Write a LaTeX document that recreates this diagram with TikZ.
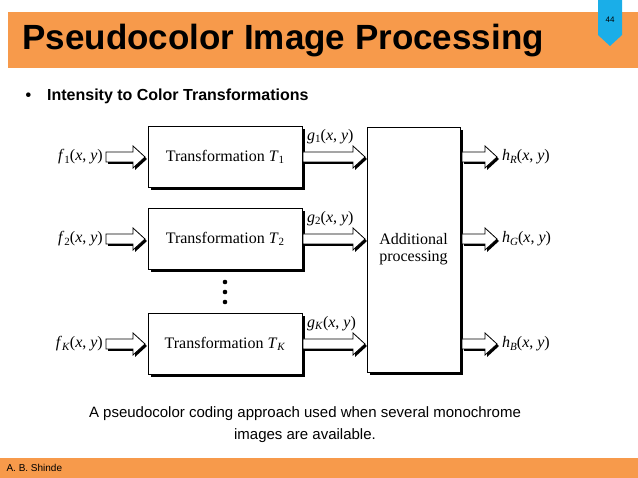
\documentclass[tikz,border=0pt]{standalone}
\usepackage{fontspec}
\setmainfont{Liberation Serif}
\newfontfamily\arial{Liberation Sans}
\usetikzlibrary{shadows,calc}
\definecolor{orng}{HTML}{F79A4B}
\definecolor{tabblue}{HTML}{1AAEE8}
\newcommand{\fn}[2]{\textit{#1}\raisebox{-2.5pt}{\fontsize{11}{12}\selectfont #2}(\textit{x}, \textit{y})}
\newcommand{\harr}[4]{% name, x1, x2, y
 \fill[black] ($(#2,#4)+(2,2)$) -- ++(0,-5) -- ($(#3,#4)+(-12+2,-5+2)$) -- ++(0,-6) -- ($(#3,#4)+(2,2)$) -- ($(#3,#4)+(-12+2,11+2)$) -- ++(0,-6) -- ($(#2,#4)+(2,2+5)$) -- cycle;
 \draw[fill=white,line width=0.8pt] (#2,#4) -- ++(0,-5) -- ($(#3,#4)+(-12,-5)$) -- ++(0,-6) -- (#3,#4) coordinate (#1e) -- ($(#3,#4)+(-12,11)$) -- ++(0,-6) -- ($(#2,#4)+(0,5)$) -- cycle;
 \coordinate (#1s) at (#2,#4);}
\tikzset{
 blk/.style={draw,fill=white,line width=0.8pt,drop shadow={shadow xshift=3pt,shadow yshift=-3pt,fill=black,opacity=1},font=\fontsize{16}{18}\selectfont},
 lab/.style={font=\fontsize{16}{18}\selectfont,inner sep=1pt}
}
\begin{document}
\begin{tikzpicture}[x=1pt,y=-1pt]
\useasboundingbox (0,0) rectangle (638,478);
\fill[orng] (8,12) rectangle (638,68);
\node[anchor=west,font=\arial\bfseries\fontsize{35}{38}\selectfont] (title) at (19,41) {Pseudocolor Image Processing};
\fill[tabblue] (598,0) -- (622,0) -- (622,35) -- (610,46) -- (598,35) -- cycle;
\node[font=\arial\fontsize{8}{9}\selectfont] (num) at (610,20) {44};
\node[anchor=west,font=\arial\bfseries\fontsize{16}{18}\selectfont] (bul) at (22,96) {\textbullet\quad Intensity to Color Transformations};
\node[blk,minimum width=154pt,minimum height=61pt] (t1) at (225,157) {Transformation \textit{T}\raisebox{-2.5pt}{\fontsize{11}{12}\selectfont 1}};
\node[blk,minimum width=154pt,minimum height=61pt] (t2) at (225,239) {Transformation \textit{T}\raisebox{-2.5pt}{\fontsize{11}{12}\selectfont 2}};
\node[blk,minimum width=154pt,minimum height=61pt] (tk) at (225,344) {Transformation \textit{T}\raisebox{-2.5pt}{\fontsize{11}{12}\selectfont\textit{K}}};
\node[blk,minimum width=93pt,minimum height=245pt,align=center,font=\fontsize{16}{17}\selectfont] (ap) at (413.5,249.5) {Additional\\processing};
\foreach \y/\n in {282/a,292/b,302/c}{\fill (225,\y) circle (2.3pt) coordinate (d\n);}
\foreach \y/\i in {157/1,239/2,344/K}{
 \harr{in\i}{106}{145}{\y}
 \harr{mid\i}{303}{365}{\y}
 \harr{out\i}{462}{497}{\y}
}
\node[lab,anchor=east] (f1) at ($(in1s)+(-2,0)$) {\fn{f}{1}};
\node[lab,anchor=east] (f2) at ($(in2s)+(-2,0)$) {\fn{f}{2}};
\node[lab,anchor=east] (fk) at ($(inKs)+(-2,0)$) {\fn{f}{\textit{K}}};
\node[lab,anchor=south west] (g1) at (306,145) {\fn{g}{1}};
\node[lab,anchor=south west] (g2) at (306,227) {\fn{g}{2}};
\node[lab,anchor=south west] (gk) at (306,332) {\fn{g}{\textit{K}}};
\node[lab,anchor=west] (hr) at ($(out1e)+(4,0)$) {\fn{h}{\textit{R}}};
\node[lab,anchor=west] (hg) at ($(out2e)+(4,0)$) {\fn{h}{\textit{G}}};
\node[lab,anchor=west] (hb) at ($(outKe)+(4,0)$) {\fn{h}{\textit{B}}};
\node[align=center,font=\arial\fontsize{15}{22}\selectfont] (cap) at (305,425) {A pseudocolor coding approach used when several monochrome\\images are available.};
\fill[orng] (0,458) rectangle (638,478);
\node[anchor=west,font=\arial\fontsize{10}{12}\selectfont] (foot) at (3,468) {A. B. Shinde};
\end{tikzpicture}
\end{document}
